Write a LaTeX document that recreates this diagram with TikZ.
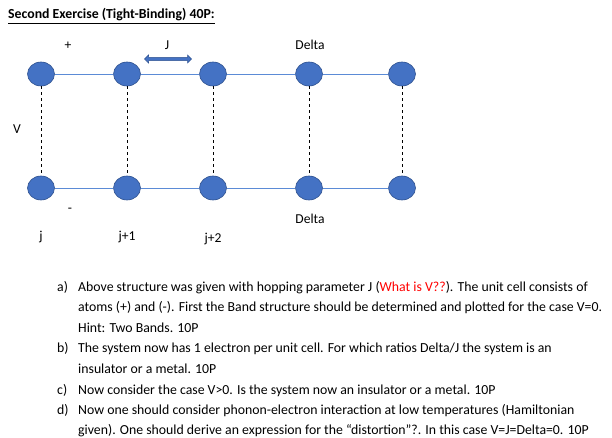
\documentclass[tikz,border=0pt]{standalone}
\usepackage{fontspec}
\setmainfont{Carlito}
\usetikzlibrary{shapes.arrows,shapes.geometric}
\definecolor{fillb}{HTML}{4472C4}
\definecolor{edgeb}{HTML}{2F528F}
\definecolor{lineb}{HTML}{5B8BD6}
\begin{document}
\begin{tikzpicture}[x=1pt,y=-1pt,
  site/.style={ellipse,draw=edgeb,fill=fillb,line width=0.6pt,minimum width=27pt,minimum height=24pt,inner sep=0},
  lbl/.style={font=\fontsize{13.6}{15}\selectfont,inner sep=0},
  txt/.style={font=\fontsize{13.8}{15}\selectfont,anchor=base west,inner sep=0},
  hop/.style={draw=lineb,line width=0.8pt},
  vert/.style={dashed,line width=0.6pt}]
\useasboundingbox (0,0) rectangle (612,438);
\node[txt,font=\fontsize{13.8}{15}\selectfont\bfseries] (title) at (8,19) {\underline{Second Exercise (Tight-Binding) 40P:}};
\foreach \i/\x in {1/41,2/127,3/213,4/309,5/402}{
  \node[site] (t\i) at (\x,74) {};
  \node[site] (b\i) at (\x,188) {};
}
\foreach \i in {1,...,5}{\draw[vert] (t\i) -- (b\i);}
\foreach \i/\j in {1/2,2/3,3/4,4/5}{
  \draw[hop] (t\i) -- (t\j);
  \draw[hop] (b\i) -- (b\j);
}
\node[double arrow,draw=edgeb,fill=fillb,line width=0.5pt,minimum height=47pt,minimum width=8pt,double arrow head extend=1.5pt,inner sep=0.8pt] (arr) at (168,59) {};
\node[lbl] (plus) at (68,46) {+};
\node[lbl] (J) at (167,45) {J};
\node[lbl] (d1) at (310,45) {Delta};
\node[lbl] (V) at (17,129) {V};
\node[lbl] (minus) at (70,210) {-};
\node[lbl] (d2) at (310,219) {Delta};
\node[lbl] (lj) at (41,237) {j};
\node[lbl] (lj1) at (127,237) {j+1};
\node[lbl] (lj2) at (213,239) {j+2};
\node[txt] (a) at (57,291) {a)};
\node[txt] (a1) at (78,291) {Above structure was given with hopping parameter J (\textcolor{red}{What is V??}). The unit cell consists of};
\node[txt] (a2) at (78,311.6) {atoms (+) and (-). First the Band structure should be determined and plotted for the case V=0.};
\node[txt] (a3) at (78,332.2) {Hint: Two Bands. 10P};
\node[txt] (b) at (57,352.8) {b)};
\node[txt] (b1) at (78,352.8) {The system now has 1 electron per unit cell. For which ratios Delta/J the system is an};
\node[txt] (b2) at (78,373.4) {insulator or a metal. 10P};
\node[txt] (c) at (57,394) {c)};
\node[txt] (c1) at (78,394) {Now consider the case V>0. Is the system now an insulator or a metal. 10P};
\node[txt] (d) at (57,414.6) {d)};
\node[txt] (d1t) at (78,414.6) {Now one should consider phonon-electron interaction at low temperatures (Hamiltonian};
\node[txt] (d2t) at (78,434.6) {given). One should derive an expression for the “distortion”?. In this case V=J=Delta=0. 10P};
\end{tikzpicture}
\end{document}
